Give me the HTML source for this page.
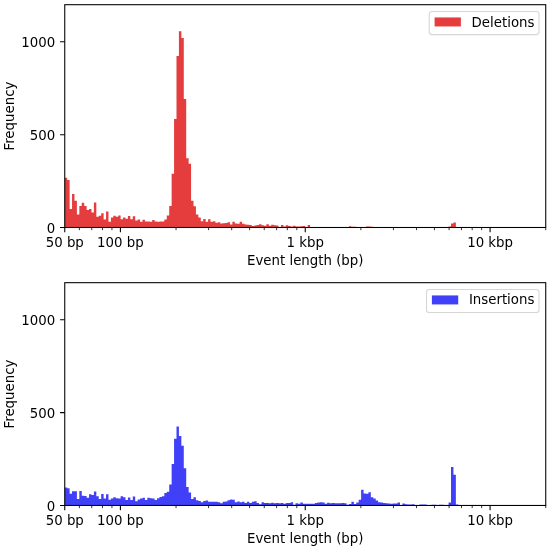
<!DOCTYPE html>
<html><head><meta charset="utf-8"><title>Event length histograms</title>
<style>
html,body{margin:0;padding:0;background:#fff}
svg{display:block}
text{font-family:"DejaVu Sans","Liberation Sans",sans-serif;font-size:13.33px;fill:#000}
</style></head><body>
<svg width="550" height="549" viewBox="0 0 550 549">
<rect width="550" height="549" fill="#fff"/>
<path d="M64.75 227.49V177.79H67.18V227.49ZM67.18 227.49V180.09H69.61V227.49ZM69.61 227.49V208.99H72.04V227.49ZM72.04 227.49V194.09H74.47V227.49ZM74.47 227.49V200.69H76.90V227.49ZM76.90 227.49V214.49H79.33V227.49ZM79.33 227.49V206.09H81.75V227.49ZM81.75 227.49V202.79H84.18V227.49ZM84.18 227.49V206.09H86.61V227.49ZM86.61 227.49V209.89H89.04V227.49ZM89.04 227.49V208.99H91.47V227.49ZM91.47 227.49V212.49H93.90V227.49ZM93.90 227.49V202.39H96.33V227.49ZM96.33 227.49V216.69H98.76V227.49ZM98.76 227.49V215.79H101.19V227.49ZM101.19 227.49V213.19H103.62V227.49ZM103.62 227.49V219.59H106.05V227.49ZM106.05 227.49V211.59H108.48V227.49ZM108.48 227.49V221.79H110.91V227.49ZM110.91 227.49V217.59H113.33V227.49ZM113.33 227.49V215.79H115.76V227.49ZM115.76 227.49V216.69H118.19V227.49ZM118.19 227.49V215.39H120.62V227.49ZM120.62 227.49V219.19H123.05V227.49ZM123.05 227.49V217.59H125.48V227.49ZM125.48 227.49V218.79H127.91V227.49ZM127.91 227.49V215.99H130.34V227.49ZM130.34 227.49V219.29H132.77V227.49ZM132.77 227.49V216.19H135.20V227.49ZM135.20 227.49V220.49H137.63V227.49ZM137.63 227.49V219.59H140.06V227.49ZM140.06 227.49V221.79H142.49V227.49ZM142.49 227.49V219.79H144.92V227.49ZM144.91 227.49V221.39H147.34V227.49ZM147.34 227.49V221.39H149.77V227.49ZM149.77 227.49V221.79H152.20V227.49ZM152.20 227.49V219.99H154.63V227.49ZM154.63 227.49V221.39H157.06V227.49ZM157.06 227.49V221.79H159.49V227.49ZM159.49 227.49V221.39H161.92V227.49ZM161.92 227.49V221.39H164.35V227.49ZM164.35 227.49V219.49H166.78V227.49ZM166.78 227.49V215.49H169.21V227.49ZM169.21 227.49V205.89H171.64V227.49ZM171.64 227.49V173.79H174.07V227.49ZM174.07 227.49V119.09H176.50V227.49ZM176.50 227.49V55.99H178.92V227.49ZM178.92 227.49V31.19H181.35V227.49ZM181.35 227.49V37.89H183.78V227.49ZM183.78 227.49V98.89H186.21V227.49ZM186.21 227.49V158.19H188.64V227.49ZM188.64 227.49V163.79H191.07V227.49ZM191.07 227.49V200.79H193.50V227.49ZM193.50 227.49V206.19H195.93V227.49ZM195.93 227.49V214.59H198.36V227.49ZM198.36 227.49V217.59H200.79V227.49ZM200.79 227.49V221.19H203.22V227.49ZM203.22 227.49V218.89H205.65V227.49ZM205.65 227.49V221.79H208.08V227.49ZM208.08 227.49V219.29H210.50V227.49ZM210.50 227.49V221.79H212.93V227.49ZM212.93 227.49V221.19H215.36V227.49ZM215.36 227.49V222.79H217.79V227.49ZM217.79 227.49V222.29H220.22V227.49ZM220.22 227.49V223.39H222.65V227.49ZM222.65 227.49V223.19H225.08V227.49ZM225.08 227.49V222.89H227.51V227.49ZM227.51 227.49V222.29H229.94V227.49ZM229.94 227.49V224.49H232.37V227.49ZM232.37 227.49V221.69H234.80V227.49ZM234.80 227.49V223.39H237.23V227.49ZM237.23 227.49V223.69H239.66V227.49ZM239.66 227.49V221.69H242.08V227.49ZM242.08 227.49V223.69H244.51V227.49ZM244.51 227.49V224.49H246.94V227.49ZM246.94 227.49V224.79H249.37V227.49ZM249.37 227.49V224.99H251.80V227.49ZM251.80 227.49V226.09H254.23V227.49ZM254.23 227.49V225.49H256.66V227.49ZM256.66 227.49V224.99H259.09V227.49ZM259.09 227.49V224.19H261.52V227.49ZM261.52 227.49V225.29H263.95V227.49ZM263.95 227.49V225.64H266.38V227.49ZM266.38 227.49V224.29H268.81V227.49ZM268.81 227.49V225.64H271.24V227.49ZM271.24 227.49V224.79H273.66V227.49ZM273.66 227.49V225.29H276.09V227.49ZM276.09 227.49V225.49H278.52V227.49ZM278.52 227.49V226.99H280.95V227.49ZM280.95 227.49V225.09H283.38V227.49ZM283.38 227.49V226.49H285.81V227.49ZM285.81 227.49V225.29H288.24V227.49ZM288.24 227.49V225.99H290.67V227.49ZM290.67 227.49V226.49H293.10V227.49ZM293.10 227.49V225.79H295.53V227.49ZM295.53 227.49V226.39H297.96V227.49ZM297.96 227.49V226.39H300.39V227.49ZM300.39 227.49V226.29H302.82V227.49ZM302.82 227.49V226.09H305.25V227.49ZM305.25 227.49V226.99H307.67V227.49ZM307.67 227.49V225.09H310.10V227.49ZM310.10 227.49V226.94H312.53V227.49ZM312.53 227.49V226.94H314.96V227.49ZM314.96 227.49V226.94H317.39V227.49ZM317.39 227.49V226.94H319.82V227.49ZM319.82 227.49V226.94H322.25V227.49ZM322.25 227.49V226.94H324.68V227.49ZM324.68 227.49V226.94H327.11V227.49ZM327.11 227.49V226.94H329.54V227.49ZM329.54 227.49V226.94H331.97V227.49ZM331.97 227.49V226.94H334.40V227.49ZM334.40 227.49V226.94H336.83V227.49ZM336.83 227.49V226.94H339.25V227.49ZM339.25 227.49V226.94H341.68V227.49ZM341.68 227.49V226.94H344.11V227.49ZM344.11 227.49V226.94H346.54V227.49ZM346.54 227.49V226.94H348.97V227.49ZM348.97 227.49V226.19H351.40V227.49ZM351.40 227.49V226.69H353.83V227.49ZM353.83 227.49V226.69H356.26V227.49ZM356.26 227.49V226.99H358.69V227.49ZM358.69 227.49V226.99H361.12V227.49ZM361.12 227.49V226.99H363.55V227.49ZM363.55 227.49V226.99H365.98V227.49ZM365.98 227.49V226.59H368.41V227.49ZM368.41 227.49V226.59H370.83V227.49ZM370.83 227.49V226.69H373.26V227.49ZM448.57 227.49V226.49H451.00V227.49ZM451.00 227.49V223.39H453.43V227.49ZM453.43 227.49V222.59H455.86V227.49Z" fill="#e53d3d"/>
<path d="M64.75 227.49v4.67M120.40 227.49v4.67M305.25 227.49v4.67M490.09 227.49v4.67" stroke="#000" stroke-width="1.07" fill="none"/>
<path d="M79.39 227.49v2.67M91.76 227.49v2.67M102.48 227.49v2.67M111.94 227.49v2.67M176.04 227.49v2.67M208.59 227.49v2.67M231.69 227.49v2.67M249.60 227.49v2.67M264.24 227.49v2.67M276.61 227.49v2.67M287.33 227.49v2.67M296.79 227.49v2.67M360.89 227.49v2.67M393.44 227.49v2.67M416.54 227.49v2.67M434.45 227.49v2.67M449.09 227.49v2.67M461.46 227.49v2.67M472.18 227.49v2.67M481.64 227.49v2.67M545.74 227.49v2.67" stroke="#000" stroke-width="0.8" fill="none"/>
<path d="M64.75 227.49h-4.67M64.75 134.66h-4.67M64.75 41.83h-4.67" stroke="#000" stroke-width="1.07" fill="none"/>
<rect x="64.75" y="4.70" width="480.99" height="222.79" fill="none" stroke="#000" stroke-width="1.07"/>
<text x="64.75" y="246.89" text-anchor="middle">50 bp</text>
<text x="120.40" y="246.89" text-anchor="middle">100 bp</text>
<text x="305.25" y="246.89" text-anchor="middle">1 kbp</text>
<text x="490.09" y="246.89" text-anchor="middle">10 kbp</text>
<text x="55.25" y="232.54" text-anchor="end">0</text>
<text x="55.25" y="139.71" text-anchor="end">500</text>
<text x="55.25" y="46.88" text-anchor="end">1000</text>
<text x="305.25" y="264.89" text-anchor="middle">Event length (bp)</text>
<text transform="translate(13.6 116.09) rotate(-90)" text-anchor="middle">Frequency</text>
<rect x="429.2" y="11.45" width="109.80" height="23.15" rx="2.8" ry="2.8" fill="#fff" fill-opacity="0.8" stroke="#ccc" stroke-opacity="0.8" stroke-width="1.07"/>
<rect x="434.60" y="17.45" width="26.3" height="9.0" fill="#e53d3d"/>
<text x="471.60" y="26.50" font-size="13.33">Deletions</text>
<path d="M64.75 505.46V487.61H67.18V505.46ZM67.18 505.46V488.36H69.61V505.46ZM69.61 505.46V493.76H72.04V505.46ZM72.04 505.46V491.16H74.47V505.46ZM74.47 505.46V491.16H76.90V505.46ZM76.90 505.46V499.06H79.33V505.46ZM79.33 505.46V490.96H81.75V505.46ZM81.75 505.46V495.66H84.18V505.46ZM84.18 505.46V496.06H86.61V505.46ZM86.61 505.46V497.81H89.04V505.46ZM89.04 505.46V494.36H91.47V505.46ZM91.47 505.46V494.96H93.90V505.46ZM93.90 505.46V491.46H96.33V505.46ZM96.33 505.46V496.26H98.76V505.46ZM98.76 505.46V499.06H101.19V505.46ZM101.19 505.46V493.96H103.62V505.46ZM103.62 505.46V498.56H106.05V505.46ZM106.05 505.46V494.36H108.48V505.46ZM108.48 505.46V499.86H110.91V505.46ZM110.91 505.46V498.56H113.33V505.46ZM113.33 505.46V497.26H115.76V505.46ZM115.76 505.46V498.16H118.19V505.46ZM118.19 505.46V498.56H120.62V505.46ZM120.62 505.46V496.26H123.05V505.46ZM123.05 505.46V497.26H125.48V505.46ZM125.48 505.46V500.06H127.91V505.46ZM127.91 505.46V497.56H130.34V505.46ZM130.34 505.46V500.06H132.77V505.46ZM132.77 505.46V496.56H135.20V505.46ZM135.20 505.46V501.36H137.63V505.46ZM137.63 505.46V499.46H140.06V505.46ZM140.06 505.46V498.56H142.49V505.46ZM142.49 505.46V497.81H144.92V505.46ZM144.91 505.46V500.06H147.34V505.46ZM147.34 505.46V497.81H149.77V505.46ZM149.77 505.46V498.16H152.20V505.46ZM152.20 505.46V498.56H154.63V505.46ZM154.63 505.46V500.06H157.06V505.46ZM157.06 505.46V498.16H159.49V505.46ZM159.49 505.46V496.96H161.92V505.46ZM161.92 505.46V496.26H164.35V505.46ZM164.35 505.46V493.06H166.78V505.46ZM166.78 505.46V491.86H169.21V505.46ZM169.21 505.46V484.56H171.64V505.46ZM171.64 505.46V464.06H174.07V505.46ZM174.07 505.46V438.86H176.50V505.46ZM176.50 505.46V426.56H178.92V505.46ZM178.92 505.46V435.96H181.35V505.46ZM181.35 505.46V445.86H183.78V505.46ZM183.78 505.46V468.26H186.21V505.46ZM186.21 505.46V487.06H188.64V505.46ZM188.64 505.46V492.56H191.07V505.46ZM191.07 505.46V498.96H193.50V505.46ZM193.50 505.46V497.26H195.93V505.46ZM195.93 505.46V500.36H198.36V505.46ZM198.36 505.46V501.06H200.79V505.46ZM200.79 505.46V502.16H203.22V505.46ZM203.22 505.46V501.06H205.65V505.46ZM205.65 505.46V500.56H208.08V505.46ZM208.08 505.46V501.66H210.50V505.46ZM210.50 505.46V501.86H212.93V505.46ZM212.93 505.46V501.86H215.36V505.46ZM215.36 505.46V501.86H217.79V505.46ZM217.79 505.46V502.16H220.22V505.46ZM220.22 505.46V503.26H222.65V505.46ZM222.65 505.46V501.66H225.08V505.46ZM225.08 505.46V501.46H227.51V505.46ZM227.51 505.46V500.36H229.94V505.46ZM229.94 505.46V499.46H232.37V505.46ZM232.37 505.46V499.66H234.80V505.46ZM234.80 505.46V502.16H237.23V505.46ZM237.23 505.46V501.46H239.66V505.46ZM239.66 505.46V502.16H242.08V505.46ZM242.08 505.46V501.86H244.51V505.46ZM244.51 505.46V502.96H246.94V505.46ZM246.94 505.46V501.86H249.37V505.46ZM249.37 505.46V503.06H251.80V505.46ZM251.80 505.46V501.66H254.23V505.46ZM254.23 505.46V501.26H256.66V505.46ZM256.66 505.46V503.06H259.09V505.46ZM259.09 505.46V504.36H261.52V505.46ZM261.52 505.46V502.36H263.95V505.46ZM263.95 505.46V503.06H266.38V505.46ZM266.38 505.46V502.91H268.81V505.46ZM268.81 505.46V503.26H271.24V505.46ZM271.24 505.46V502.86H273.66V505.46ZM273.66 505.46V503.26H276.09V505.46ZM276.09 505.46V503.06H278.52V505.46ZM278.52 505.46V503.36H280.95V505.46ZM280.95 505.46V503.06H283.38V505.46ZM283.38 505.46V503.86H285.81V505.46ZM285.81 505.46V502.91H288.24V505.46ZM288.24 505.46V503.06H290.67V505.46ZM290.67 505.46V502.36H293.10V505.46ZM293.10 505.46V504.76H295.53V505.46ZM295.53 505.46V503.26H297.96V505.46ZM297.96 505.46V503.86H300.39V505.46ZM300.39 505.46V502.56H302.82V505.46ZM302.82 505.46V503.86H305.25V505.46ZM305.25 505.46V503.86H307.67V505.46ZM307.67 505.46V503.66H310.10V505.46ZM310.10 505.46V503.86H312.53V505.46ZM312.53 505.46V503.66H314.96V505.46ZM314.96 505.46V502.96H317.39V505.46ZM317.39 505.46V502.56H319.82V505.46ZM319.82 505.46V502.36H322.25V505.46ZM322.25 505.46V502.56H324.68V505.46ZM324.68 505.46V503.66H327.11V505.46ZM327.11 505.46V502.76H329.54V505.46ZM329.54 505.46V503.36H331.97V505.46ZM331.97 505.46V502.96H334.40V505.46ZM334.40 505.46V503.16H336.83V505.46ZM336.83 505.46V503.36H339.25V505.46ZM339.25 505.46V503.16H341.68V505.46ZM341.68 505.46V502.96H344.11V505.46ZM344.11 505.46V503.16H346.54V505.46ZM346.54 505.46V504.66H348.97V505.46ZM348.97 505.46V504.06H351.40V505.46ZM351.40 505.46V501.86H353.83V505.46ZM353.83 505.46V504.06H356.26V505.46ZM356.26 505.46V502.56H358.69V505.46ZM358.69 505.46V499.66H361.12V505.46ZM361.12 505.46V489.66H363.55V505.46ZM363.55 505.46V493.46H365.98V505.46ZM365.98 505.46V493.76H368.41V505.46ZM368.41 505.46V492.36H370.83V505.46ZM370.83 505.46V497.26H373.26V505.46ZM373.26 505.46V498.56H375.69V505.46ZM375.69 505.46V500.56H378.12V505.46ZM378.12 505.46V502.16H380.55V505.46ZM380.55 505.46V502.56H382.98V505.46ZM382.98 505.46V502.96H385.41V505.46ZM385.41 505.46V503.26H387.84V505.46ZM387.84 505.46V503.56H390.27V505.46ZM390.27 505.46V503.86H392.70V505.46ZM392.70 505.46V503.56H395.13V505.46ZM395.13 505.46V503.56H397.56V505.46ZM397.56 505.46V502.56H399.99V505.46ZM399.99 505.46V504.96H402.41V505.46ZM402.41 505.46V503.56H404.84V505.46ZM404.84 505.46V504.26H407.27V505.46ZM407.27 505.46V504.46H409.70V505.46ZM409.70 505.46V504.46H412.13V505.46ZM412.13 505.46V504.26H414.56V505.46ZM414.56 505.46V504.91H416.99V505.46ZM416.99 505.46V504.91H419.42V505.46ZM419.42 505.46V504.46H421.85V505.46ZM421.85 505.46V504.46H424.28V505.46ZM424.28 505.46V504.46H426.71V505.46ZM426.71 505.46V504.91H429.14V505.46ZM429.14 505.46V504.91H431.57V505.46ZM431.57 505.46V504.76H433.99V505.46ZM433.99 505.46V504.76H436.42V505.46ZM436.42 505.46V504.91H438.85V505.46ZM438.85 505.46V504.76H441.28V505.46ZM441.28 505.46V504.76H443.71V505.46ZM443.71 505.46V504.91H446.14V505.46ZM446.14 505.46V504.91H448.57V505.46ZM448.57 505.46V502.46H451.00V505.46ZM451.00 505.46V467.06H453.43V505.46ZM453.43 505.46V474.66H455.86V505.46ZM455.86 505.46V504.46H458.29V505.46Z" fill="#4040f9"/>
<path d="M64.75 505.46v4.67M120.40 505.46v4.67M305.25 505.46v4.67M490.09 505.46v4.67" stroke="#000" stroke-width="1.07" fill="none"/>
<path d="M79.39 505.46v2.67M91.76 505.46v2.67M102.48 505.46v2.67M111.94 505.46v2.67M176.04 505.46v2.67M208.59 505.46v2.67M231.69 505.46v2.67M249.60 505.46v2.67M264.24 505.46v2.67M276.61 505.46v2.67M287.33 505.46v2.67M296.79 505.46v2.67M360.89 505.46v2.67M393.44 505.46v2.67M416.54 505.46v2.67M434.45 505.46v2.67M449.09 505.46v2.67M461.46 505.46v2.67M472.18 505.46v2.67M481.64 505.46v2.67M545.74 505.46v2.67" stroke="#000" stroke-width="0.8" fill="none"/>
<path d="M64.75 505.46h-4.67M64.75 412.63h-4.67M64.75 319.81h-4.67" stroke="#000" stroke-width="1.07" fill="none"/>
<rect x="64.75" y="282.68" width="480.99" height="222.78" fill="none" stroke="#000" stroke-width="1.07"/>
<text x="64.75" y="524.86" text-anchor="middle">50 bp</text>
<text x="120.40" y="524.86" text-anchor="middle">100 bp</text>
<text x="305.25" y="524.86" text-anchor="middle">1 kbp</text>
<text x="490.09" y="524.86" text-anchor="middle">10 kbp</text>
<text x="55.25" y="510.51" text-anchor="end">0</text>
<text x="55.25" y="417.69" text-anchor="end">500</text>
<text x="55.25" y="324.86" text-anchor="end">1000</text>
<text x="305.25" y="542.86" text-anchor="middle">Event length (bp)</text>
<text transform="translate(13.6 394.07) rotate(-90)" text-anchor="middle">Frequency</text>
<rect x="426.5" y="289.43" width="112.50" height="23.15" rx="2.8" ry="2.8" fill="#fff" fill-opacity="0.8" stroke="#ccc" stroke-opacity="0.8" stroke-width="1.07"/>
<rect x="431.90" y="295.43" width="26.3" height="9.0" fill="#4040f9"/>
<text x="468.90" y="304.48" font-size="13.33">Insertions</text>
</svg>
</body></html>
